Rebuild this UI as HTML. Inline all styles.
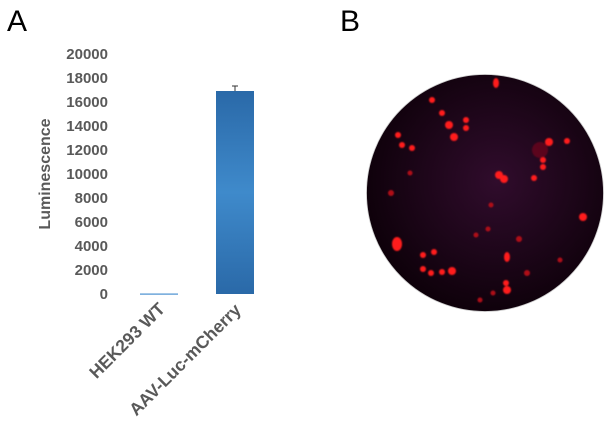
<!DOCTYPE html>
<html><head><style>
body{margin:0;background:#fff;}
svg text{font-family:"Liberation Sans",sans-serif;}
</style></head><body>
<svg width="608" height="430" viewBox="0 0 608 430" xmlns="http://www.w3.org/2000/svg">
<defs>
<linearGradient id="bg" x1="0" y1="0" x2="0" y2="1">
<stop offset="0" stop-color="#2a69a8"/><stop offset="0.5" stop-color="#3f8acb"/><stop offset="1" stop-color="#2a69a8"/>
</linearGradient>
<radialGradient id="haze" cx="0.55" cy="0.45" r="0.6">
<stop offset="0" stop-color="#300c2c"/><stop offset="1" stop-color="#0c0008"/>
</radialGradient>
<clipPath id="cc"><circle cx="485" cy="193" r="118"/></clipPath>
<filter id="bl"><feGaussianBlur stdDeviation="0.8"/></filter>
</defs>
<text x="7" y="31" font-size="30" fill="#000">A</text>
<text x="340" y="31" font-size="30" fill="#000">B</text>
<g font-size="15" font-weight="bold" fill="#595959" text-anchor="end">
<text x="108" y="59">20000</text><text x="108" y="83">18000</text><text x="108" y="107">16000</text>
<text x="108" y="131">14000</text><text x="108" y="155">12000</text><text x="108" y="179">10000</text>
<text x="108" y="203">8000</text><text x="108" y="227">6000</text><text x="108" y="251">4000</text>
<text x="108" y="275">2000</text><text x="108" y="299">0</text>
</g>
<text transform="translate(50,174) rotate(-90)" font-size="16" font-weight="bold" fill="#595959" text-anchor="middle">Luminescence</text>
<rect x="140" y="293.5" width="38" height="1.2" fill="#4a90d0"/>
<rect x="216" y="91" width="38" height="203" fill="url(#bg)"/>
<path d="M235 91V86M232 86H238" stroke="#333" stroke-width="1" fill="none"/>
<g font-size="17.5" font-weight="bold" fill="#595959" text-anchor="end">
<text transform="translate(166,310) rotate(-45)">HEK293 WT</text>
<text transform="translate(242,311) rotate(-45)">AAV-Luc-mCherry</text>
</g>
<circle cx="485" cy="193" r="118.5" fill="url(#haze)" stroke="#ccc" stroke-width="0.8"/>
<g clip-path="url(#cc)" filter="url(#bl)">
<g fill="#ff1a1a">
<ellipse cx="496" cy="83" rx="3" ry="5"/>
<circle cx="432" cy="100" r="3"/><circle cx="442" cy="113" r="3"/>
<circle cx="449" cy="125" r="4"/><circle cx="454" cy="137" r="4"/>
<circle cx="466" cy="120" r="3"/><circle cx="466" cy="128" r="3"/>
<circle cx="398" cy="135" r="3"/><circle cx="402" cy="145" r="3"/><circle cx="412" cy="148" r="3"/>
<circle cx="499" cy="175" r="4"/><circle cx="504" cy="179" r="4"/>
<circle cx="549" cy="142" r="4"/><circle cx="567" cy="141" r="3"/>
<circle cx="543" cy="160" r="3"/><circle cx="543" cy="167" r="3"/><circle cx="534" cy="178" r="3"/>
<circle cx="583" cy="217" r="4"/>
<ellipse cx="397" cy="244" rx="5" ry="7"/>
<circle cx="423" cy="255" r="3"/><circle cx="434" cy="252" r="3"/>
<circle cx="423" cy="269" r="3"/><circle cx="431" cy="273" r="3"/><circle cx="442" cy="272" r="3"/><circle cx="452" cy="271" r="4"/>
<ellipse cx="507" cy="257" rx="3" ry="5"/>
<circle cx="507" cy="290" r="4"/><circle cx="506" cy="283" r="3"/>
</g>
<g fill="#b01018">
<circle cx="410" cy="173" r="2.5"/><circle cx="391" cy="193" r="3"/>
<circle cx="491" cy="205" r="2.5"/><circle cx="519" cy="239" r="3"/>
<circle cx="488" cy="229" r="2.5"/><circle cx="476" cy="235" r="2.5"/>
<circle cx="527" cy="273" r="3"/><circle cx="480" cy="300" r="2.5"/>
<circle cx="493" cy="293" r="2.5"/><circle cx="560" cy="260" r="2.5"/>
<circle cx="540" cy="150" r="8" opacity="0.4"/>
</g>
</g>
</svg>
</body></html>
